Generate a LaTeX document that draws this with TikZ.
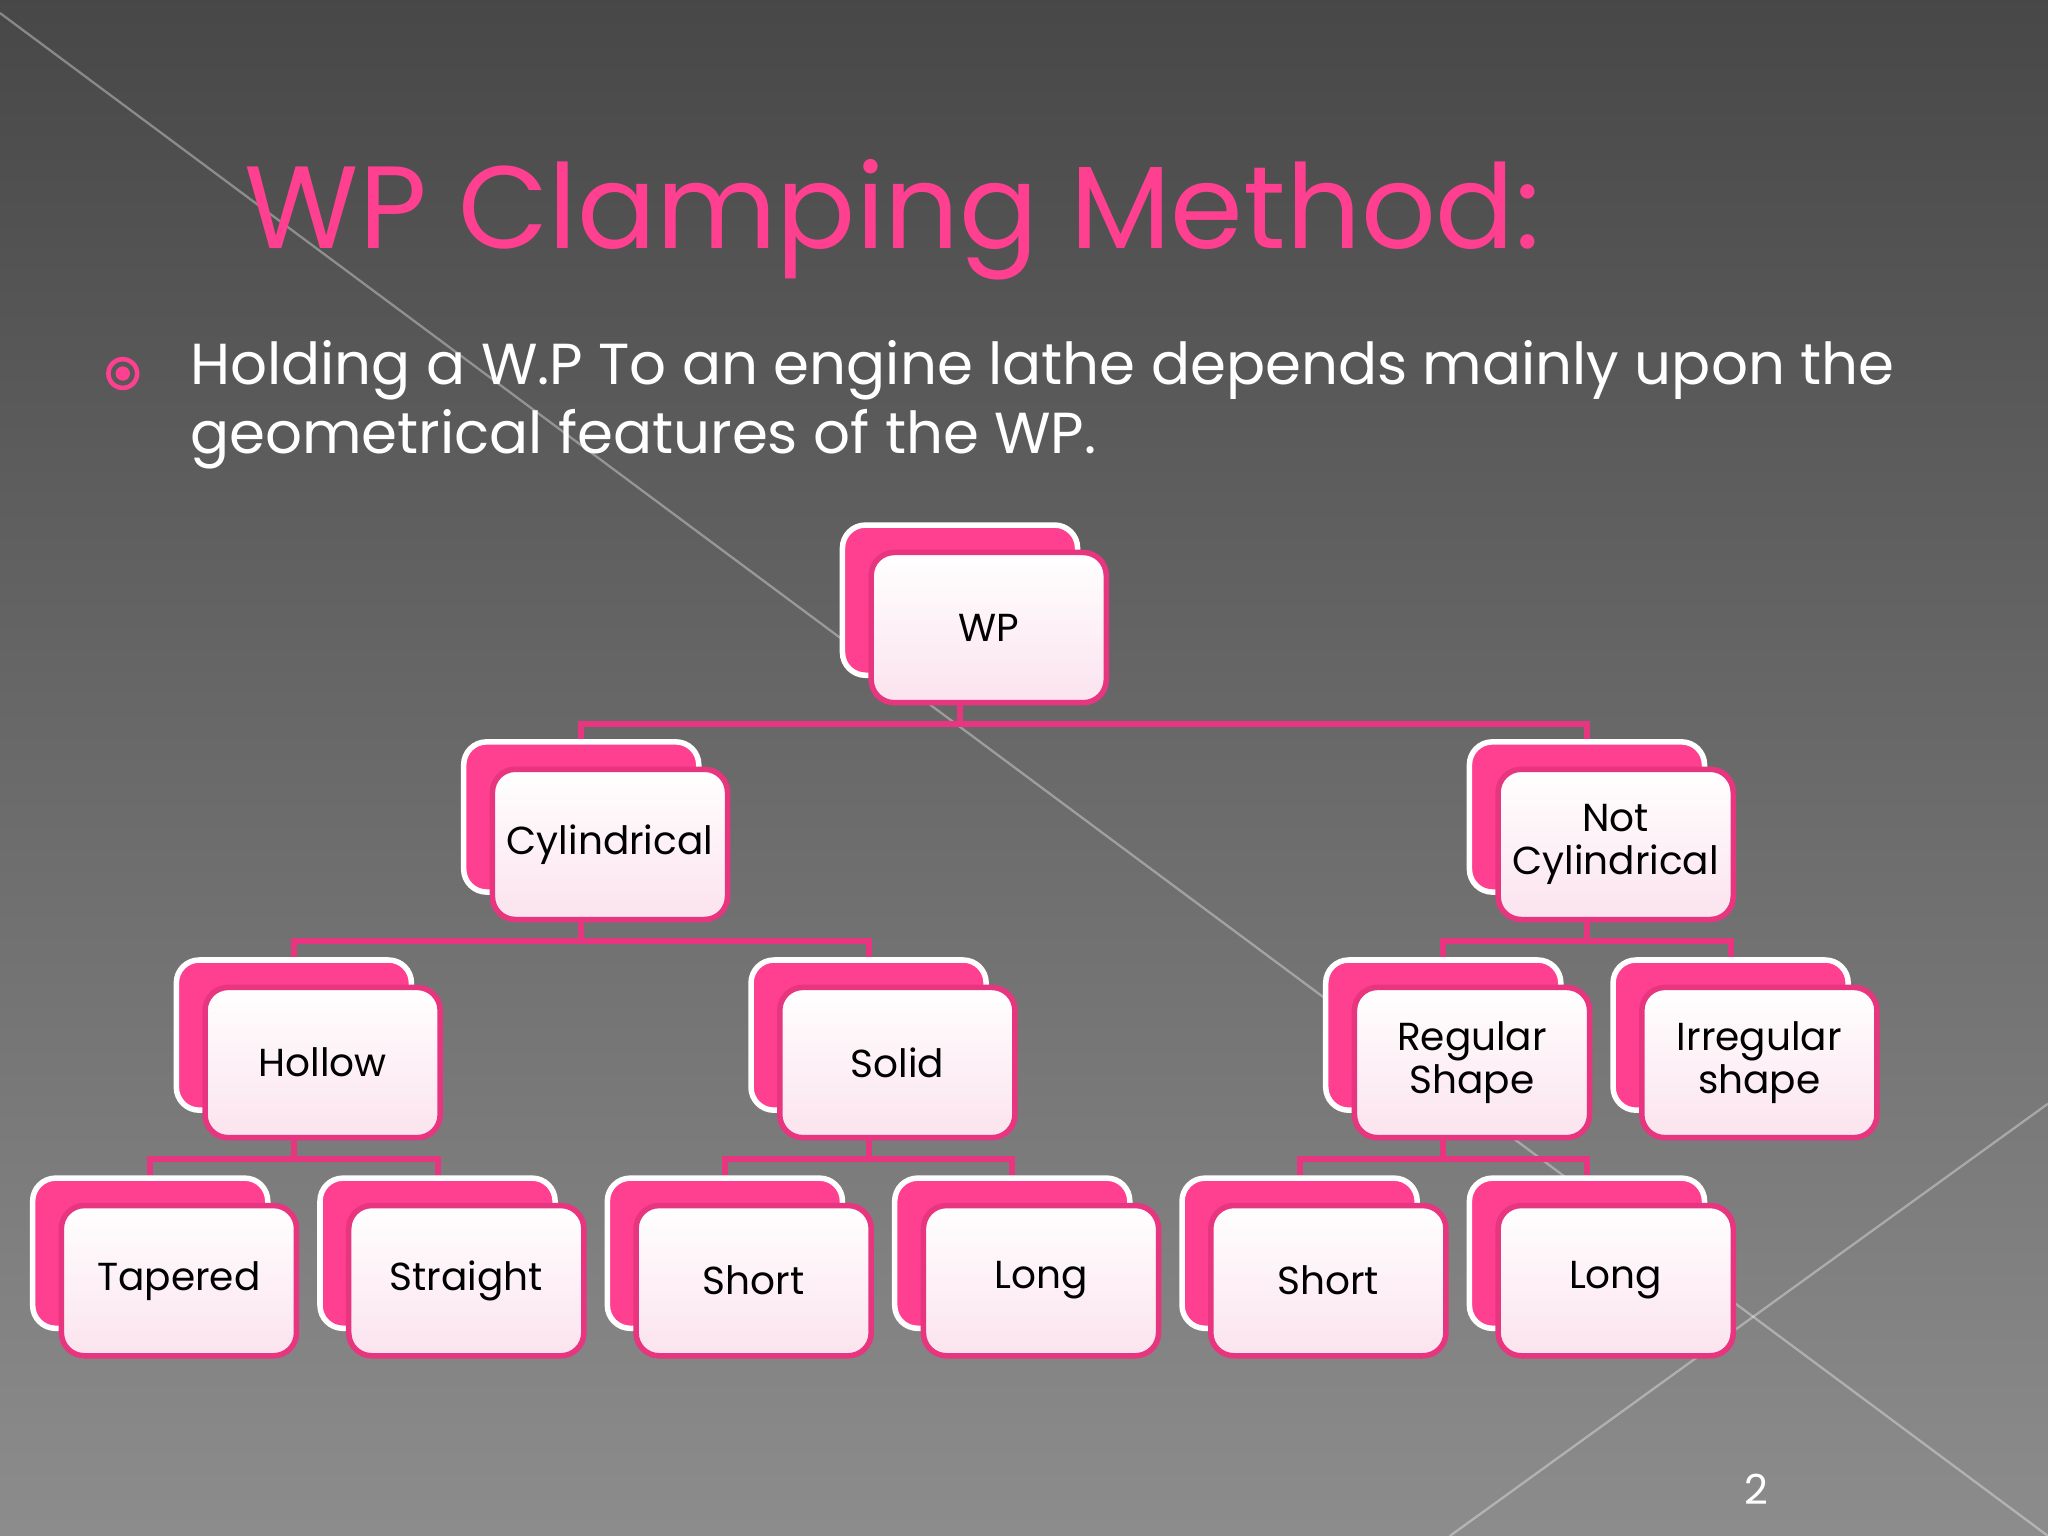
\documentclass[tikz,border=0pt]{standalone}
\usepackage{fontspec}
\setmainfont{Poppins}
\usetikzlibrary{calc}
\definecolor{pk}{HTML}{FF3F8F}
\definecolor{pkd}{HTML}{E8357F}
\definecolor{lp}{HTML}{FBE3EE}
\tikzset{
 back/.style={draw=white,line width=1.2pt,fill=pk,rounded corners=5pt,minimum width=1.8cm,minimum height=1.15cm,inner sep=0pt},
 front/.style={draw=pkd,line width=1.2pt,top color=white,bottom color=lp,rounded corners=5pt,minimum width=1.8cm,minimum height=1.15cm,inner sep=0pt,align=center,font=\fontsize{8.5}{9.5}\selectfont,text width=1.7cm},
 conn/.style={draw=pkd,line width=1.3pt},
 bline/.style={white,opacity=0.35,line width=0.5pt}
}
\newcommand{\wbox}[4]{%
 \node[back] (#1b) at (#2/100+0.9,-#3/100-0.575) {};
 \node[front] (#1) at (#2/100+1.12,-#3/100-0.785) {#4};}
\begin{document}
\begin{tikzpicture}
\useasboundingbox (0,0) rectangle (15.68,-11.76);
\shade[top color=black!72,bottom color=black!45] (0,0) rectangle (15.68,-11.76);
\draw[bline] (0,-0.1) -- (15.68,-11.76);
\draw[bline] (11.1,-11.76) -- (15.68,-8.45);
\node[text=pk,anchor=west,font=\fontsize{25.5}{28}\selectfont] (title) at (1.75,-1.68) {WP Clamping Method:};
\node[circle,draw=pk,line width=1pt,minimum size=0.22cm,inner sep=0pt] (bul) at (0.94,-2.86) {};
\fill[pk] (bul) circle (0.055);
\node[text=white,anchor=north west,align=left,font=\fontsize{12.6}{15}\selectfont,inner sep=0pt] (body) at (1.45,-2.6) {Holding a W.P To an engine lathe depends mainly upon the\\geometrical features of the WP.};
\node[text=white,font=\fontsize{9}{10}\selectfont] (pg) at (13.45,-11.4) {2};
\wbox{wp}{645}{402}{WP}
\wbox{cyl}{355}{568}{Cylindrical}
\wbox{ncyl}{1125}{568}{Not\\Cylindrical}
\wbox{hol}{135}{735}{Hollow}
\wbox{sol}{575}{735}{Solid}
\wbox{reg}{1015}{735}{Regular\\Shape}
\wbox{irr}{1235}{735}{Irregular\\shape}
\wbox{tap}{25}{902}{Tapered}
\wbox{str}{245}{902}{Straight}
\wbox{sh1}{465}{902}{Short}
\wbox{lo1}{685}{902}{Long}
\wbox{sh2}{905}{902}{Short}
\wbox{lo2}{1125}{902}{Long}
\foreach \p/\c in {wp/cyl,wp/ncyl,cyl/hol,cyl/sol,ncyl/reg,ncyl/irr,hol/tap,hol/str,sol/sh1,sol/lo1,reg/sh2,reg/lo2}{
 \draw[conn] (\p b|-\p.south) -- ++(0,-0.14) -| (\c b.north);
}
\end{tikzpicture}
\end{document}
